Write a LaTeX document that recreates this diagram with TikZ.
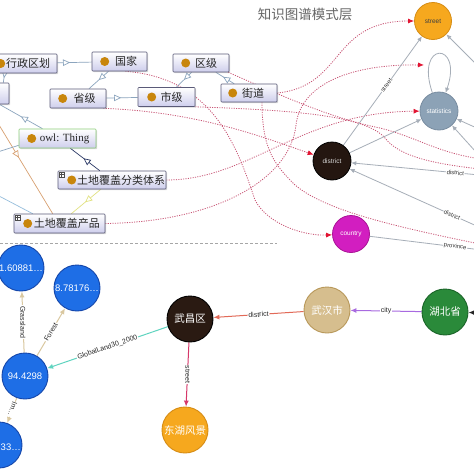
\documentclass[tikz,border=0pt]{standalone}
\usepackage{fontspec}
\setmainfont{Liberation Serif}
\setsansfont{Liberation Sans}
\newfontfamily\cjk{Noto Sans CJK SC}
\usetikzlibrary{arrows.meta,decorations.markings,shadows,calc}
\definecolor{boxbot}{RGB}{206,206,236}
\definecolor{boxline}{RGB}{90,90,120}
\definecolor{dotc}{RGB}{200,134,12}
\definecolor{isac}{RGB}{140,165,190}
\definecolor{navyc}{RGB}{44,58,102}
\definecolor{limey}{RGB}{226,226,130}
\definecolor{lblue}{RGB}{150,190,220}
\definecolor{orng}{RGB}{216,160,112}
\definecolor{owlg}{RGB}{140,205,120}
\definecolor{rdot}{RGB}{200,84,116}
\definecolor{rhead}{RGB}{226,20,50}
\definecolor{gedge}{RGB}{166,174,184}
\definecolor{streetc}{RGB}{246,168,30}
\definecolor{streetb}{RGB}{214,140,20}
\definecolor{statc}{RGB}{140,162,182}
\definecolor{statb}{RGB}{120,140,160}
\definecolor{distc}{RGB}{36,22,16}
\definecolor{countc}{RGB}{210,30,192}
\definecolor{countb}{RGB}{170,20,150}
\definecolor{bluen}{RGB}{30,110,230}
\definecolor{blueb}{RGB}{20,70,170}
\definecolor{beigec}{RGB}{218,200,160}
\definecolor{tealc}{RGB}{96,212,192}
\definecolor{tanc}{RGB}{214,190,142}
\definecolor{tanb}{RGB}{184,152,90}
\definecolor{greenc}{RGB}{42,138,58}
\definecolor{greenb}{RGB}{26,100,40}
\definecolor{wcqc}{RGB}{42,26,18}
\definecolor{orgc}{RGB}{246,168,30}
\definecolor{orgb}{RGB}{214,140,20}
\definecolor{dedge}{RGB}{226,106,88}
\definecolor{cedge}{RGB}{168,106,224}
\definecolor{sedge}{RGB}{214,56,106}
\pgfdeclarelayer{edges}
\pgfsetlayers{edges,main}
\begin{document}
\begin{tikzpicture}[x=1pt,y=-1pt,
  cls/.style={draw=boxline, line width=0.6pt, top color=white, bottom color=boxbot, minimum height=19pt, inner sep=0pt, rounded corners=0.8pt, drop shadow={shadow xshift=1.2pt,shadow yshift=-1.2pt,opacity=0.3}, font=\cjk\fontsize{11}{11}\selectfont, text=black!85},
  isaline/.style={draw=#1, line width=0.7pt},
  tri/.style={postaction={decorate,decoration={markings,mark=at position #1 with {\arrow{Triangle[length=7pt,width=6.5pt,fill=white]}}}}},
  trir/.style={postaction={decorate,decoration={markings,mark=at position #1 with {\arrowreversed{Triangle[length=7pt,width=6.5pt,fill=white]}}}}},
  rd/.style={draw=rdot, line width=0.8pt, dash pattern=on 1.1pt off 1.3pt},
  rda/.style={rd, -{Latex[length=6pt,width=5pt,color=rhead]}},
  gn/.style={circle, line width=0.8pt, inner sep=0pt, minimum size=#1, font=\sffamily\fontsize{6.5}{6.5}\selectfont},
  ge/.style={draw=gedge, line width=0.8pt, -{Latex[length=5pt,width=4.5pt]}},
  el/.style={fill=white, inner sep=0.6pt, font=\sffamily\fontsize{6}{6}\selectfont, text=black!80},
  bn/.style={circle, draw=blueb, fill=bluen, line width=0.9pt, minimum size=46pt, inner sep=0pt, text=white, font=\sffamily\fontsize{9.5}{9.5}\selectfont},
  cn/.style={circle, line width=0.9pt, minimum size=46pt, inner sep=0pt, text=white, font=\cjk\fontsize{10.5}{10.5}\selectfont},
  be/.style={draw=#1, line width=1pt, -{Latex[length=6pt,width=5pt]}},
  bl/.style={fill=white, inner sep=0.8pt, font=\sffamily\fontsize{7}{7}\selectfont, text=black!85},
  plusb/.style={draw=black!70, fill=white, minimum size=5pt, inner sep=0pt, line width=0.4pt,
    path picture={\draw[line width=0.5pt] (path picture bounding box.west) -- (path picture bounding box.east) (path picture bounding box.north) -- (path picture bounding box.south);}},
]
\useasboundingbox (0,0) rectangle (474,474);
\begin{pgfonlayer}{edges}
\fill[white] (0,0) rectangle (474,474);
\end{pgfonlayer}

% title
\node[font=\cjk\fontsize{13.5}{13.5}\selectfont, text=black!60] (title) at (305,14) {知识图谱模式层};

% ontology classes
\node[cls, minimum width=65pt] (xzqh) at (24.5,63.5) {\hspace*{7pt}行政区划};
\node[cls, minimum width=55pt] (gj) at (119.5,61.5) {\hspace*{13pt}国家};
\node[cls, minimum width=56pt, minimum height=18pt] (qj) at (201,63) {\hspace*{10pt}区级};
\node[cls, minimum width=56pt] (sj) at (78,98.5) {\hspace*{13pt}省级};
\node[cls, minimum width=57pt] (shj) at (166.5,97) {\hspace*{10pt}市级};
\node[cls, minimum width=56pt, minimum height=18pt] (jd) at (249,93) {\hspace*{8pt}街道};
\node[cls, minimum width=68pt, minimum height=21pt] (lp) at (-25,93.5) {};
\node[cls, draw=owlg, minimum width=77pt, font=\fontsize{11}{11}\selectfont] (owl) at (57.5,138.5) {\hspace*{14pt}owl: Thing};
\node[cls, minimum width=108pt, minimum height=18pt] (tdfl) at (112,180) {\hspace*{18pt}土地覆盖分类体系};
\node[cls, minimum width=91pt] (tdcp) at (59.5,223.5) {\hspace*{15pt}土地覆盖产品};
\foreach \n/\d in {xzqh/9,gj/13,qj/13,sj/13,shj/14,jd/12,owl/13,tdfl/14,tdcp/14}
  \fill[dotc] ($(\n.west)+(\d,0)$) circle (4.5pt);
\node[plusb] (pl1) at ($(tdfl.north west)+(4,4)$) {};
\node[plusb] (pl2) at ($(tdcp.north west)+(4,4)$) {};

% knowledge graph schema nodes
\node[gn=37pt, fill=streetc, draw=streetb, text=black!75] (street) at (433,21) {street};
\node[gn=38pt, fill=statc, draw=statb, text=white] (stat) at (439,111) {statistics};
\node[gn=38pt, fill=distc, draw=black, text=white!85!black] (dist) at (332,161) {district};
\node[gn=37pt, fill=countc, draw=countb, text=white] (country) at (351,234) {country};

% instance nodes
\node[bn] (n16) at (21,268) {1.60881…};
\node[bn] (n87) at (77,288) {8.78176…};
\node[bn] (n94) at (25,376) {94.4298};
\node[bn] (n33) at (-1,445) {};
\node[text=white, font=\sffamily\fontsize{9.5}{9.5}\selectfont, anchor=east, inner sep=0pt] (t33) at (21,447) {33…};
\node[cn, fill=wcqc, draw=black] (wcq) at (190,319) {武昌区};
\node[cn, fill=tanc, draw=tanb] (whs) at (327,310) {武汉市};
\node[cn, fill=greenc, draw=greenb] (hbs) at (445,312) {湖北省};
\node[cn, fill=orgc, draw=orgb] (dhfj) at (185,430) {东湖风景};

\begin{pgfonlayer}{edges}
% separator
\draw[draw=black!35, dash pattern=on 3pt off 2pt, line width=0.6pt] (0,243) -- (277,243);
% ontology subclass arcs
\draw[isaline=isac, tri=0.37] (xzqh) -- (gj);
\draw[isaline=isac, tri=0.5] (gj) -- (sj);
\draw[isaline=isac, tri=0.5] (qj) -- (shj);
\draw[isaline=isac, tri=0.47] (sj) -- (shj);
\draw[isaline=isac, trir=0.4] (qj) -- (jd);
\draw[isaline=isac, tri=0.5] ($(xzqh.south west)+(13,0)$) -- ($(lp.north east)+(-6,0)$);
\draw[isaline=isac, trir=0.5] ($(lp.south east)+(-10,0)$) -- ($(owl.north)+(-15,0)$);
\draw[isaline=navyc, trir=0.45] (owl) -- (tdfl);
\draw[isaline=limey, tri=0.53] (tdfl) -- (tdcp);
\coordinate (offA) at (-20,186);
\draw[isaline=lblue] (offA) -- ($(tdcp.north west)+(19,0)$);
\coordinate (offB) at (-10,110);
\draw[isaline=orng, tri=0.46] (offB) -- ($(tdcp.north west)+(39,0)$);
\coordinate (offC) at (-15,156);
\draw[isaline=isac] (offC) -- ($(owl.south west)+(0,-3)$);

% mapping links (dotted)
\draw[rda] (jd.east) .. controls (345,86) and (330,21) .. (street);
\coordinate (loopin) at (424,65);
\draw[rda] (tdcp.east) .. controls (215,222) and (290,180) .. (296,125) .. controls (301,82) and (355,64) .. (loopin);
\draw[rda] (tdfl.east) .. controls (250,180) and (300,112) .. (stat);
\draw[rda] ($(sj.south east)+(-3,0)$) .. controls (200,112) and (265,138) .. (dist);
\draw[rda] ($(gj.south east)+(-22,0)$) .. controls (215,78) and (238,150) .. (255,200) .. controls (268,225) and (305,236) .. (country);
\coordinate (r6) at (490,246);
\draw[rd] ($(jd.south)+(13,0)$) .. controls (262,150) and (275,165) .. (295,185) .. controls (325,210) and (390,226) .. (r6);
\coordinate (r7) at (490,170);
\draw[rd] (shj.south east) .. controls (290,110) and (365,115) .. (385,138) .. controls (400,158) and (440,165) .. (r7);
\coordinate (r8) at (490,160);
\draw[rd] ($(qj.south east)+(-1,0)$) .. controls (280,95) and (330,118) .. (380,128) .. controls (420,138) and (440,155) .. (r8);

% schema relations
\draw[ge] (dist) -- node[el, sloped, pos=0.55] {street} (street);
\draw[ge] (dist) -- (stat);
\draw[ge] (stat.110) .. controls +(-18,-52) and +(18,-52) .. (stat.70);
\coordinate (rs) at (480,68);
\draw[ge] (rs) -- (street);
\coordinate (rst1) at (490,134);
\draw[ge] (rst1) -- (stat);
\coordinate (rst2) at (485,162);
\draw[ge] (rst2) -- (stat);
\coordinate (rd1) at (490,176);
\draw[ge] (rd1) -- node[el, sloped, pos=0.25] {district} (dist);
\coordinate (rd2) at (490,232);
\draw[ge] (rd2) -- node[el, sloped, pos=0.27] {district} (dist);
\coordinate (rp) at (490,251);
\draw[ge, -] (country) -- node[el, sloped, pos=0.71] {province} (rp);

% instance relations
\draw[be=beigec] (n94) -- node[bl, rotate=-90] {Grassland} (n16);
\draw[be=beigec] (n94) -- node[bl, sloped] {Forest} (n87);
\draw[be=beigec] (n94) -- node[bl, rotate=-110, pos=0.45] {lm…} (n33);
\draw[be=tealc] (wcq) -- node[bl, sloped] {GlobalLand30\_2000} (n94);
\draw[be=dedge] (whs) -- node[bl, sloped] {district} (wcq);
\draw[be=cedge] (hbs) -- node[bl] {city} (whs);
\draw[be=sedge] (wcq) -- node[bl, rotate=-90] {street} (dhfj);
\coordinate (rh) at (495,313);
\draw[be=black!85] (rh) -- (hbs);
\end{pgfonlayer}
\end{tikzpicture}
\end{document}
